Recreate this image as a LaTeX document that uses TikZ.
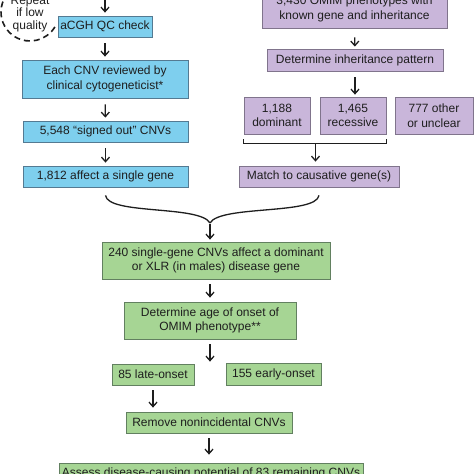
\documentclass[tikz,border=0pt]{standalone}
\usepackage{fontspec}
\setmainfont{Liberation Sans}
\usetikzlibrary{arrows.meta}

\definecolor{cnvblue}{RGB}{126,207,238}
\definecolor{cnvedge}{RGB}{84,122,146}
\definecolor{omimpurple}{RGB}{201,182,218}
\definecolor{omimedge}{RGB}{128,116,140}
\definecolor{findgreen}{RGB}{166,213,148}
\definecolor{findedge}{RGB}{98,128,96}
\definecolor{ink}{RGB}{30,30,30}

\tikzset{
	box/.style={draw,line width=0.8pt,inner sep=2pt,align=center,minimum height=21pt,text=ink,font=\fontsize{12}{14.5}\selectfont},
	cnv/.style={box,fill=cnvblue,draw=cnvedge},
	omim/.style={box,fill=omimpurple,draw=omimedge},
	finding/.style={box,fill=findgreen,draw=findedge},
	flow/.style={-{Straight Barb[length=4.5pt,width=8pt]},line width=1.3pt,draw=ink,shorten <=6pt,shorten >=3pt},
	brace/.style={line width=1.3pt,draw=ink},
}

\begin{document}
\begin{tikzpicture}[x=1pt,y=-1pt]
	\useasboundingbox (0,0) rectangle (474,474);
	\clip (0,0) rectangle (474,474);
	\fill[white] (0,0) rectangle (474,474);

	\node[cnv,minimum width=94pt] (qc) at (105,26.5) {aCGH QC check};
	\node[cnv,minimum width=166pt,minimum height=38pt] (review) at (105,79) {Each CNV reviewed by\\clinical cytogeneticist*};
	\node[cnv,minimum width=165pt] (signed) at (105.5,131.5) {5,548 “signed out” CNVs};
	\node[cnv,minimum width=165pt] (single) at (105.5,176.5) {1,812 affect a single gene};

	\node[omim,minimum width=185pt,minimum height=38pt] (phen) at (354.5,9) {3,430 OMIM phenotypes with\\known gene and inheritance};
	\node[omim,minimum width=176pt,minimum height=22pt] (inherit) at (355,60) {Determine inheritance pattern};
	\node[omim,minimum width=66pt,minimum height=37pt] (dom) at (277,115.5) {1,188\\dominant};
	\node[omim,minimum width=66pt,minimum height=37pt] (rec) at (353,115.5) {1,465\\recessive};
	\node[omim,minimum width=78pt,minimum height=37pt] (other) at (434,115.5) {777 other\\or unclear};
	\node[omim,minimum width=160pt] (match) at (319,176.5) {Match to causative gene(s)};

	\node[finding,minimum width=228pt,minimum height=37pt] (dis) at (216,260.5) {240 single-gene CNVs affect a dominant\\or XLR (in males) disease gene};
	\node[finding,minimum width=172pt,minimum height=37pt] (onset) at (210,320.5) {Determine age of onset of\\OMIM phenotype**};
	\node[finding,minimum width=82pt] (late) at (153,374.5) {85 late-onset};
	\node[finding,minimum width=95pt,minimum height=22pt] (early) at (273.5,374) {155 early-onset};
	\node[finding,minimum width=166pt] (remove) at (209,422.5) {Remove nonincidental CNVs};
	\node[finding,minimum width=304pt] (assess) at (211,473.5) {Assess disease-causing potential of 83 remaining CNVs};

	\node[text=ink,align=center,font=\fontsize{12}{12.5}\selectfont] (repeat) at (30,14) {Repeat\\if low\\quality};
	\draw[dashed,dash pattern=on 6pt off 4pt,line width=1.6pt,ink] (30,12) ++(31:29) arc[start angle=31,end angle=215,radius=29];

	\coordinate (entry) at (105,-3);
	\draw[flow,shorten <=0pt] (entry) -- (qc);
	\draw[flow] (qc) -- (review);
	\draw[flow] (review) -- (signed);
	\draw[flow] (signed) -- (single);

	\draw[flow,shorten <=9pt,shorten >=2pt] (phen) -- (inherit);
	\draw[flow,shorten >=2pt] (inherit.south) -- (inherit.south |- rec.north);
	\draw[brace] ([yshift=-5pt]dom.south west) -- ([yshift=-9pt]dom.south west) -| ([yshift=-5pt]rec.south east);
	\coordinate (pair) at (315.5,143);
	\draw[flow,shorten <=0pt,shorten >=4pt] (pair) -- (pair |- match.north);

	\coordinate (join) at (210,223);
	\draw[brace] ([yshift=-8pt]single.south) .. controls (108,215) and (200,205) .. (join);
	\draw[brace] ([yshift=-8pt]match.south) .. controls (316,215) and (220,205) .. (join);
	\draw[flow,shorten <=1pt,shorten >=2pt] (join) -- (join |- dis.north);

	\draw[flow,shorten <=5pt,shorten >=4pt] (onset.north |- dis.south) -- (onset.north);
	\draw[flow,shorten <=5pt,shorten >=2pt] (onset.south) -- (onset.south |- late.north);
	\draw[flow,shorten <=5pt,shorten >=4pt] (late.south) -- (late.south |- remove.north);
	\draw[flow,shorten <=5pt,shorten >=8pt] (remove.south) -- (remove.south |- assess.north);
\end{tikzpicture}
\end{document}
